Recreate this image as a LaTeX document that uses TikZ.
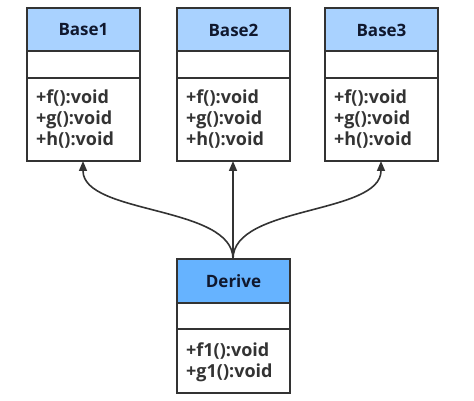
\documentclass[tikz,border=0pt]{standalone}
\usepackage{fontspec}
\setmainfont{Open Sans}
\usetikzlibrary{arrows.meta}
\definecolor{hdrA}{HTML}{A9D2FF}
\definecolor{hdrB}{HTML}{66B3FF}
\definecolor{edge}{HTML}{333333}
\definecolor{ttl}{HTML}{10182E}
\begin{document}
\begin{tikzpicture}[x=1pt,y=-1pt,
  boxline/.style={draw=edge,line width=1.6pt},
  title/.style={font=\bfseries\fontsize{17}{19}\selectfont,text=ttl},
  meth/.style={font=\bfseries\fontsize{18}{21}\selectfont,text=edge,align=left,anchor=north west,inner sep=0pt},
  conn/.style={draw=edge,line width=1.6pt,-{Triangle[length=10pt,width=8pt]}}]
\useasboundingbox (0,0) rectangle (474,401);
% Base boxes
\foreach \n/\xl in {1/27,2/177,3/325}{
  \fill[hdrA] (\xl,8) rectangle ++(113,43);
  \draw[boxline] (\xl,8) rectangle ++(113,153);
  \draw[boxline] (\xl,51) -- ++(113,0);
  \draw[boxline] (\xl,78) -- ++(113,0);
  \node[title] (t\n) at (\xl+56.5,30) {Base\n};
  \node[meth] (m\n) at (\xl+9,90) {+f():void\\+g():void\\+h():void};
  \coordinate (b\n) at (\xl+56,161);
}
% Derive
\fill[hdrB] (177,259) rectangle ++(113,44);
\draw[boxline] (177,259) rectangle ++(113,134);
\draw[boxline] (177,303) -- ++(113,0);
\draw[boxline] (177,329) -- ++(113,0);
\node[title] (td) at (233.5,281) {Derive};
\node[meth] (md) at (186,343) {+f1():void\\+g1():void};
\coordinate (d) at (233,259);
% connectors
\draw[conn] (d) -- (b2);
\draw[conn] (d) .. controls (233,205) and (83,215) .. (b1);
\draw[conn] (d) .. controls (233,205) and (381,215) .. (b3);
\end{tikzpicture}
\end{document}
